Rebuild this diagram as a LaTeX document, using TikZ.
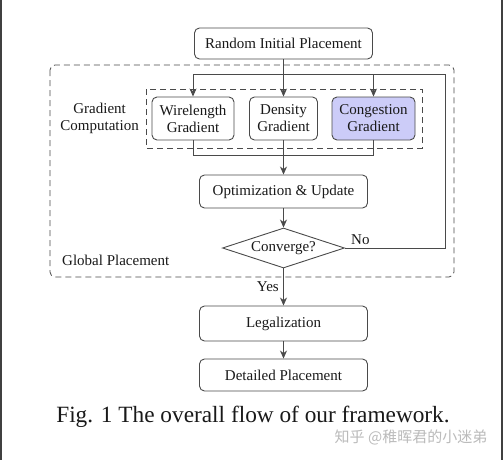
\documentclass[tikz,border=0pt]{standalone}
\usepackage{fontspec}
\setmainfont{Liberation Serif}
\newfontfamily\cjkfont{Noto Sans CJK SC}
\usetikzlibrary{shapes.geometric,arrows.meta}
\definecolor{linec}{HTML}{4A4A4A}
\definecolor{congfill}{HTML}{CCCCF8}
\definecolor{wmark}{HTML}{BBBBBB}
\begin{document}
\begin{tikzpicture}[x=1pt,y=-1pt,
  every node/.style={font=\fontsize{15}{17}\selectfont, text=black!90},
  flowbox/.style={draw=linec, line width=0.9pt, rounded corners=5pt, inner sep=0pt, align=center},
  conn/.style={draw=linec, line width=0.9pt},
  arr/.style={conn, -{Stealth[length=8pt,width=7pt,inset=2.5pt]}},
  dashbox/.style={draw=linec, line width=0.8pt, dash pattern=on 6pt off 4pt},
  lbl/.style={inner sep=0pt}
]
\useasboundingbox (0,0) rectangle (503,460);
\fill[white] (0,0) rectangle (503,460);
\draw[line width=2pt, draw=black!75] (1,0) -- (1,460);
\draw[line width=2pt, draw=black!75] (502,0) -- (502,460);

% dashed regions
\draw[dashbox, rounded corners=5pt] (50,65) rectangle (454,277);
\draw[dashbox] (146,89) rectangle (422,148);

% nodes
\node[flowbox, minimum width=178pt, minimum height=31pt] (init) at (283.5,43.5) {Random Initial Placement};
\node[flowbox, minimum width=82pt, minimum height=43pt] (wl) at (193,118.5) {Wirelength\\Gradient};
\node[flowbox, minimum width=68pt, minimum height=43pt] (den) at (283.5,118.5) {Density\\Gradient};
\node[flowbox, fill=congfill, minimum width=83pt, minimum height=43pt] (con) at (373.5,118.5) {Congestion\\Gradient};
\node[flowbox, minimum width=168pt, minimum height=33pt] (opt) at (283.5,191.5) {Optimization \& Update};
\node[draw=linec, line width=0.9pt, diamond, aspect=3, inner sep=0pt, minimum width=122pt, minimum height=40pt] (conv) at (283.5,248) {Converge?};
\node[flowbox, minimum width=168pt, minimum height=35pt] (leg) at (283.5,323.5) {Legalization};
\node[flowbox, minimum width=168pt, minimum height=32pt] (det) at (283.5,375) {Detailed Placement};

% labels
\node[lbl, align=center, anchor=east] (gclbl) at (139,118) {Gradient\\Computation};
\node[lbl, anchor=west] (gplbl) at (62,260) {Global Placement};
\node[lbl, anchor=south west] (nolbl) at (351,245) {No};
\node[lbl, anchor=east] (yeslbl) at (279,287) {Yes};

% connectors
\coordinate (loopR) at (445,248);
\coordinate (loopT) at (445,74);
\coordinate (loopL) at (193,74);
\coordinate (merge) at (283.5,155);
\path[arr] (init.south) -- (den.north);
\path[arr] (conv.east) -- (loopR) -- (loopT) -- (loopL) -- (wl.north);
\path[arr] (con.north |- loopT) -- (con.north);
\path[conn] (wl.south) -- (wl.south |- merge) -- (con.south |- merge) -- (con.south);
\path[conn] (den.south) -- (merge);
\path[arr] (merge) -- (opt.north);
\path[arr] (opt.south) -- (conv.north);
\path[arr] (conv.south) -- (leg.north);
\path[arr] (leg.south) -- (det.north);

% caption and watermark
\node[lbl, font=\fontsize{23.3}{26}\selectfont] (cap) at (253,417) {Fig. 1 The overall flow of our framework.};
\node[lbl, font=\cjkfont\fontsize{15}{17}\selectfont, text=wmark] (wm) at (411,437) {知乎 @稚晖君的小迷弟};
\end{tikzpicture}
\end{document}
